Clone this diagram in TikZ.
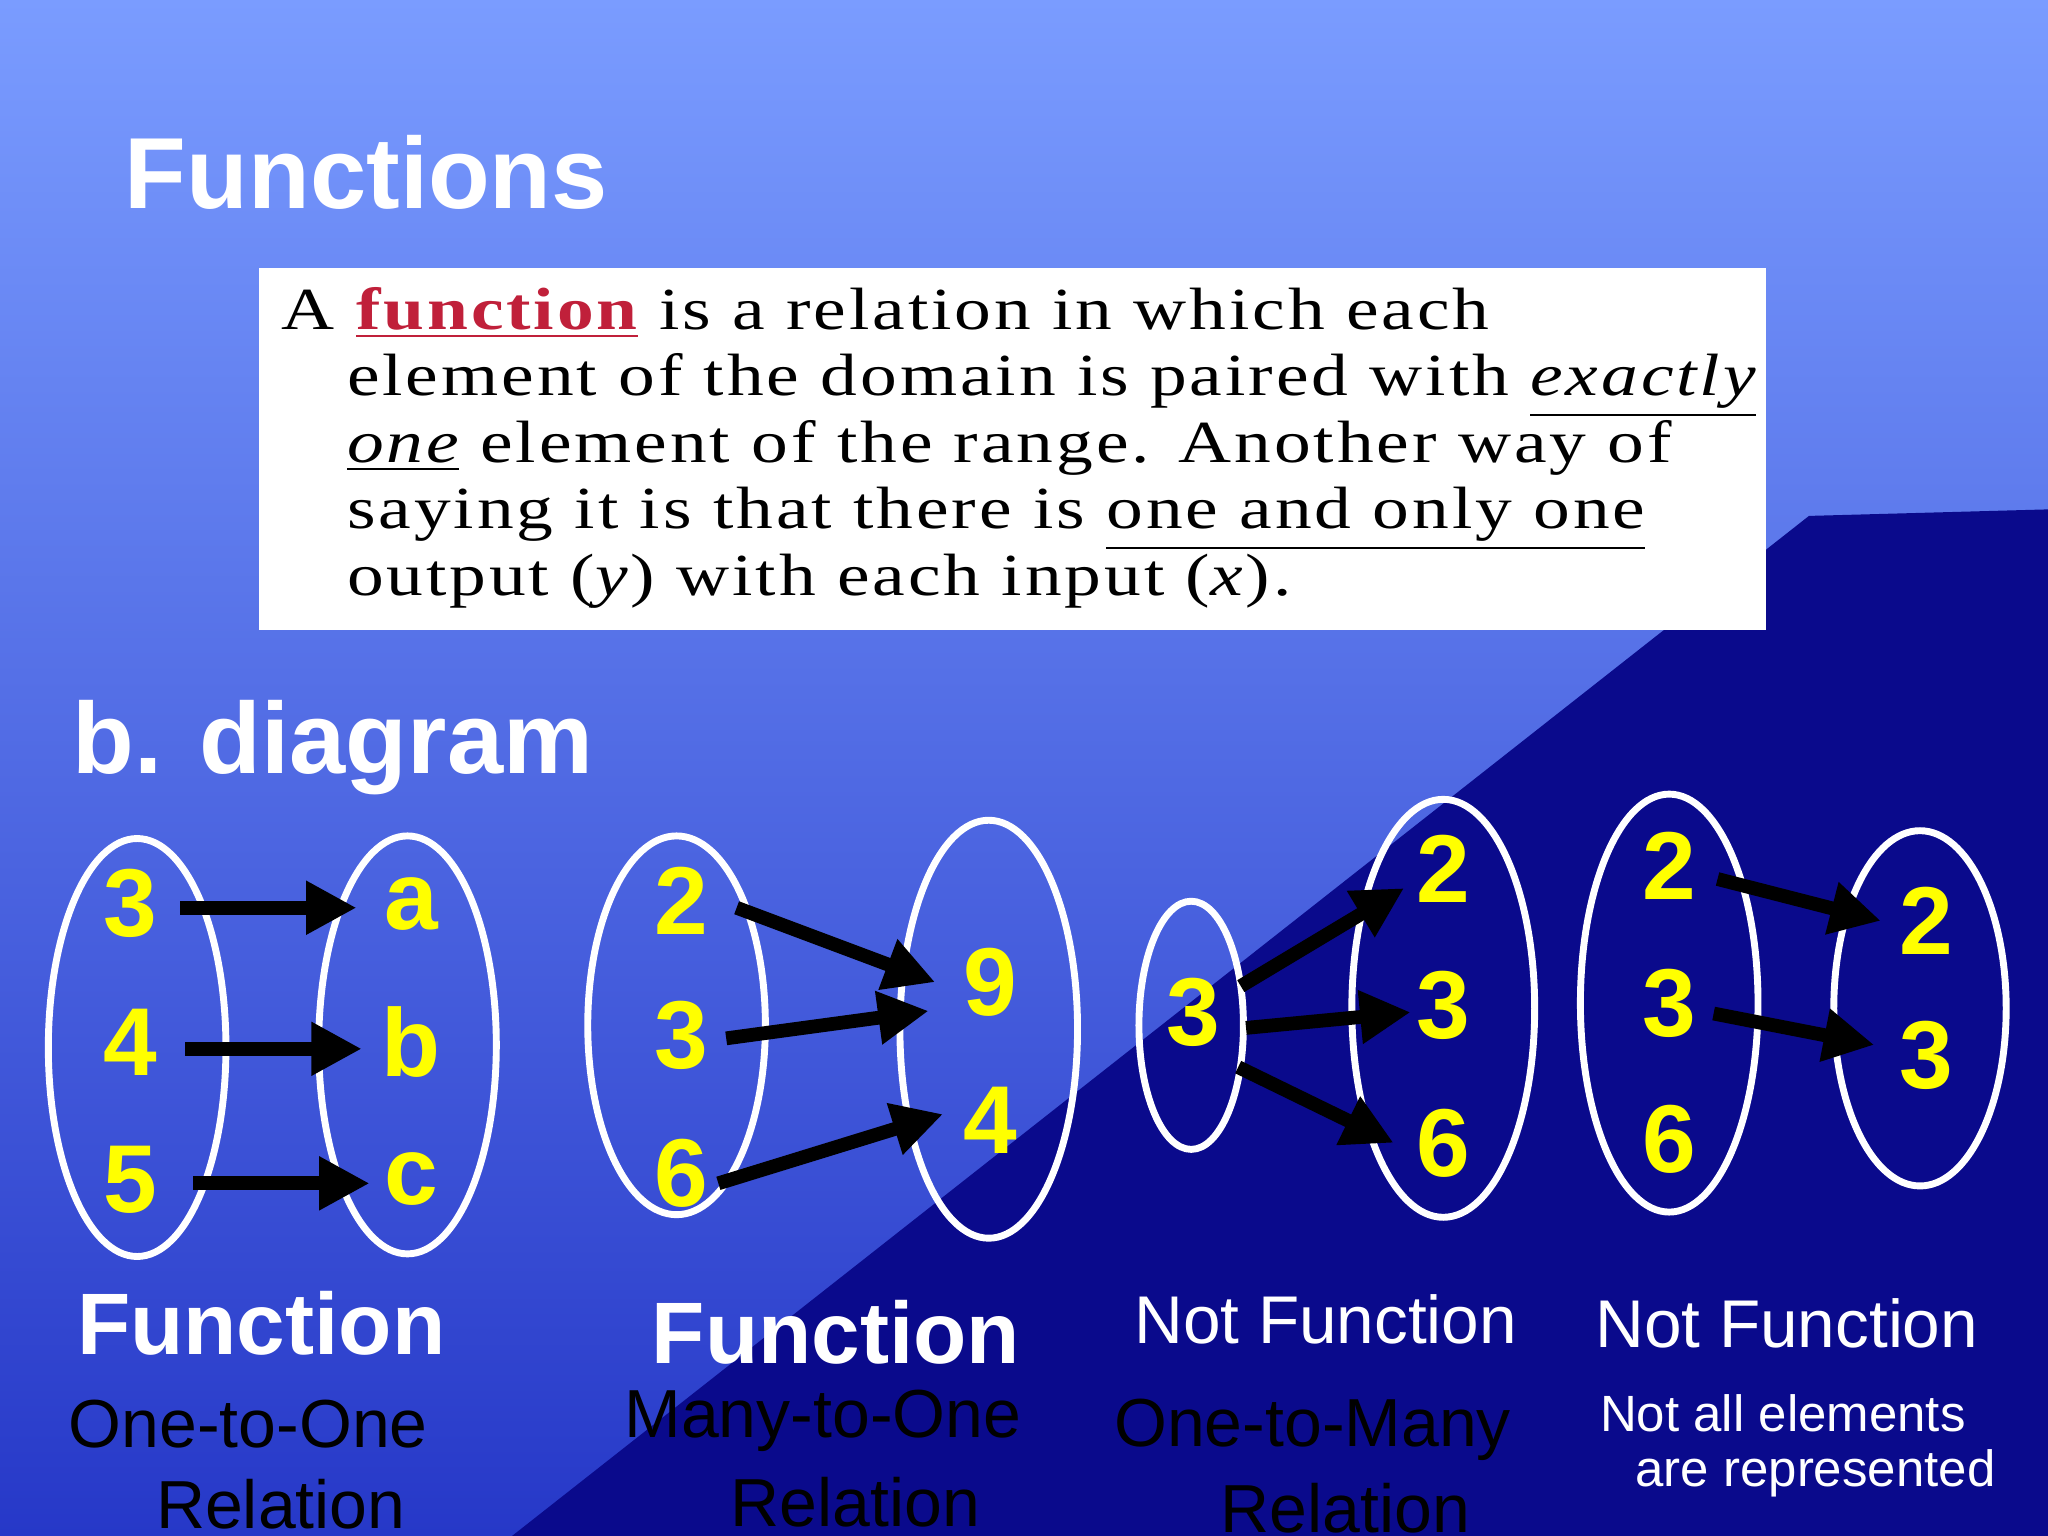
\documentclass[tikz,border=0pt]{standalone}
\usepackage{fontspec}
\setmainfont{Liberation Sans}
\newfontfamily\deffont[LetterSpace=4]{Liberation Serif}
\usetikzlibrary{arrows.meta,calc}
\definecolor{topblue}{HTML}{7A9CFF}
\definecolor{botblue}{HTML}{2638C8}
\definecolor{navy}{HTML}{0A0A8C}
\definecolor{yel}{HTML}{FFFF00}
\definecolor{fred}{HTML}{C0203A}
\newcommand{\dl}[1]{\scalebox{1.23}[1]{#1}}
\begin{document}
\begin{tikzpicture}[x=0.01cm,y=-0.01cm,
  ell/.style={draw=white,line width=1.5pt},
  num/.style={text=yel,font=\fontsize{21}{21}\bfseries\selectfont,inner sep=0pt},
  arr/.style={line width=3pt,-{Triangle[length=11pt,width=11pt]}},
  fbold/.style={text=white,font=\fontsize{19}{20}\bfseries\selectfont},
  freg/.style={text=white,font=\fontsize{14.7}{18}\selectfont},
  fblack/.style={text=black,font=\fontsize{14.8}{18}\selectfont},
  fsmall/.style={text=white,font=\fontsize{11.1}{14}\selectfont},
  dline/.style={anchor=base west,inner sep=0pt,font=\deffont\fontsize{13}{14}\selectfont}]
\useasboundingbox (0,0) rectangle (1568,1176);
\shade[top color=topblue,bottom color=botblue] (0,0) rectangle (1568,1176);
\fill[navy] (1385,395) -- (1568,390) -- (1568,1176) -- (392,1176) -- cycle;
% title
\node[anchor=base west,text=white,font=\fontsize{22}{22}\bfseries\selectfont,inner sep=0pt] (title) at (95,160) {Functions};
% definition box
\fill[white] (198,205) rectangle (1352,482);
\node[dline] (d1) at (215,252) {\dl{A \textcolor{fred}{\bfseries\underline{function}} is a relation in which each}};
\node[dline] (d2) at (265,303) {\dl{element of the domain is paired with \underline{\itshape exactly}}};
\node[dline] (d3) at (265,354) {\dl{\underline{\itshape one} element of the range. Another way of}};
\node[dline] (d4) at (265,405) {\dl{saying it is that there is \underline{one and only one}}};
\node[dline] (d5) at (265,456) {\dl{output (\textit{y}) with each input (\textit{x}).}};
\node[anchor=base west,text=white,font=\fontsize{22}{22}\bfseries\selectfont,inner sep=0pt] (bd) at (55,592) {b. diagram};
% ellipses
\draw[ell] (105,802) ellipse [x radius=68,y radius=160];
\draw[ell] (312,800) ellipse [x radius=68,y radius=160];
\draw[ell] (518,785) ellipse [x radius=68,y radius=145];
\draw[ell] (757,788) ellipse [x radius=68,y radius=160];
\draw[ell] (912,785) ellipse [x radius=40,y radius=95];
\draw[ell] (1105,772) ellipse [x radius=70,y radius=160];
\draw[ell] (1278,768) ellipse [x radius=68,y radius=160];
\draw[ell] (1470,772) ellipse [x radius=66,y radius=136];
% group 1
\node[num] (a3) at (100,692) {3};
\node[num] (a4) at (100,798) {4};
\node[num] (a5) at (100,903) {5};
\node[num] (ba) at (315,692) {a};
\node[num] (bb) at (315,798) {b};
\node[num] (bc) at (315,903) {c};
\draw[arr] ($(a3)+(38,3)$) -- ($(ba)+(-42,3)$);
\draw[arr] ($(a4)+(42,5)$) -- ($(bb)+(-38,5)$);
\draw[arr] ($(a5)+(48,3)$) -- ($(bc)+(-32,3)$);
% group 2
\node[num] (c2) at (522,690) {2};
\node[num] (c3) at (522,793) {3};
\node[num] (c6) at (522,898) {6};
\node[num] (d9) at (758,752) {9};
\node[num] (d4n) at (758,858) {4};
\draw[arr] ($(c2)+(42,5)$) -- ($(d9)+(-42,0)$);
\draw[arr] ($(c3)+(34,2)$) -- ($(d9)+(-47,22)$);
\draw[arr] ($(c6)+(28,8)$) -- ($(d4n)+(-36,-5)$);
% group 3
\node[num] (e3) at (914,775) {3};
\node[num] (f2) at (1105,665) {2};
\node[num] (f3) at (1105,770) {3};
\node[num] (f6) at (1105,875) {6};
\draw[arr] ($(e3)+(36,-20)$) -- ($(f2)+(-30,15)$);
\draw[arr] ($(e3)+(40,12)$) -- ($(f3)+(-25,5)$);
\draw[arr] ($(e3)+(34,42)$) -- ($(f6)+(-38,0)$);
% group 4
\node[num] (g2) at (1278,663) {2};
\node[num] (g3) at (1278,768) {3};
\node[num] (g6) at (1278,872) {6};
\node[num] (h2) at (1475,705) {2};
\node[num] (h3) at (1475,808) {3};
\draw[arr] ($(g2)+(37,10)$) -- ($(h2)+(-35,0)$);
\draw[arr] ($(g3)+(34,8)$) -- ($(h3)+(-40,-8)$);
% labels
\node[fbold] (l1) at (200,1013) {Function};
\node[fbold] (l2) at (640,1020) {Function};
\node[freg] (l3) at (1015,1010) {Not Function};
\node[freg] (l4) at (1368,1013) {Not Function};
\node[fblack] (s1a) at (190,1090) {One-to-One};
\node[fblack] (s1b) at (215,1152) {Relation};
\node[fblack] (s2a) at (630,1088) {Many-to-One};
\node[fblack] (s2b) at (655,1150) {Relation};
\node[fblack] (s3a) at (1005,1095) {One-to-Many};
\node[fblack] (s3b) at (1030,1155) {Relation};
\node[fsmall] (s4a) at (1365,1082) {Not all elements};
\node[fsmall] (s4b) at (1390,1128) {are represented};
\end{tikzpicture}
\end{document}
